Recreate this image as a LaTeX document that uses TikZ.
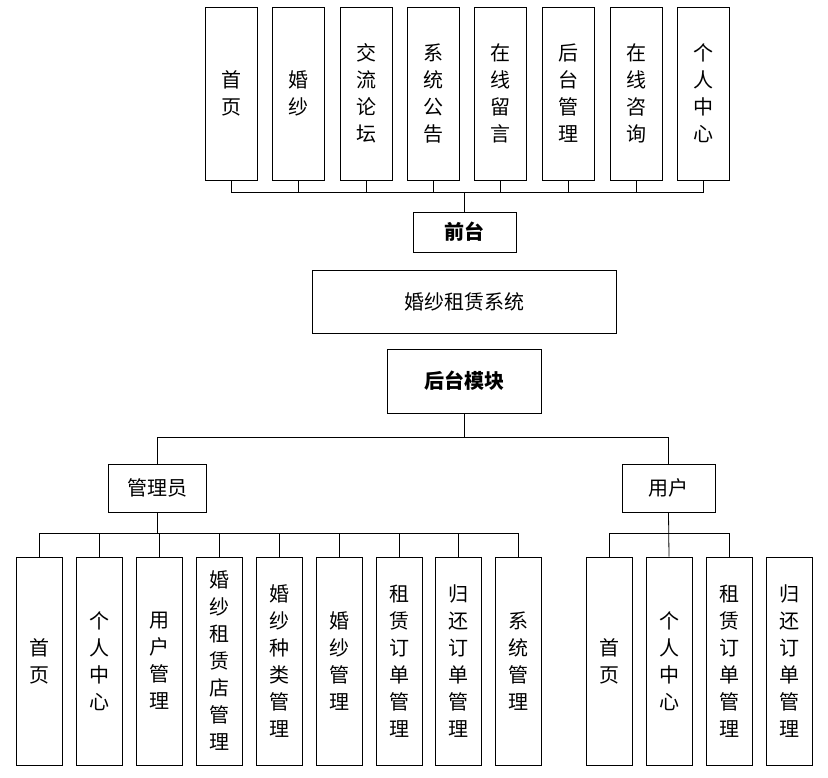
\documentclass[tikz,border=0pt]{standalone}
\usepackage{fontspec}
\setmainfont{Noto Sans CJK SC}
\tikzset{
  vbox/.style={draw, thick, minimum width=46pt, minimum height=208pt, align=center, font=\fontsize{20}{27}\selectfont, inner sep=0pt},
  tbox/.style={draw, thick, minimum width=52pt, minimum height=173pt, align=center, font=\fontsize{20}{27}\selectfont, inner sep=0pt},
  hbox/.style={draw, thick, align=center, font=\fontsize{20}{24}\selectfont, inner sep=0pt},
  link/.style={thick}
}
\begin{document}
\begin{tikzpicture}[x=1pt,y=-1pt]
    \useasboundingbox (0,0) rectangle (828,778);
    % top row
    \foreach \x/\t [count=\i] in {231/首\\页, 298/婚\\纱, 366/交\\流\\论\\坛, 433/系\\统\\公\\告, 500/在\\线\\留\\言, 568/后\\台\\管\\理, 636/在\\线\\咨\\询, 703/个\\人\\中\\心}
        \node[tbox] (t\i) at (\x,93.5) {\t};
    \node[hbox, font=\bfseries\fontsize{20}{24}\selectfont, minimum width=103pt, minimum height=40pt] (front) at (464.5,232) {前台};
    \node[hbox, minimum width=304pt, minimum height=63pt] (sys) at (464,301.5) {婚纱租赁系统};
    \node[hbox, font=\bfseries\fontsize{20}{24}\selectfont, minimum width=154pt, minimum height=64pt] (back) at (464,381) {后台模块};
    \node[hbox, minimum width=98pt, minimum height=48pt] (admin) at (157,488) {管理员};
    \node[hbox, minimum width=93pt, minimum height=48pt] (user) at (668.5,488) {用户};
    % admin row
    \foreach \x/\t [count=\i] in {39/首\\页, 99/个\\人\\中\\心, 159/用\\户\\管\\理, 219/婚\\纱\\租\\赁\\店\\管\\理, 279/婚\\纱\\种\\类\\管\\理, 339/婚\\纱\\管\\理, 399/租\\赁\\订\\单\\管\\理, 458/归\\还\\订\\单\\管\\理, 518/系\\统\\管\\理}
        \node[vbox] (a\i) at (\x,661) {\t};
    % user row
    \foreach \x/\t [count=\i] in {609/首\\页, 669/个\\人\\中\\心, 729/租\\赁\\订\\单\\管\\理, 789/归\\还\\订\\单\\管\\理}
        \node[vbox] (u\i) at (\x,661) {\t};
    % connectors
    \draw[link] (t1.south) |- (t8.south |- 0,192) -- (t8.south);
    \foreach \i in {2,...,7}
        \draw[link] (t\i.south) -- (t\i.south |- 0,192);
    \draw[link] (front.north) -- (front.north |- 0,192);
    \draw[link] (back.south) -- (back.south |- 0,437);
    \draw[link] (admin.north) |- (user.north |- 0,437) -- (user.north);
    \draw[link] (a1.north) |- (a9.north |- 0,533) -- (a9.north);
    \foreach \i in {2,...,8}
        \draw[link] (a\i.north) -- (a\i.north |- 0,533);
    \draw[link] (admin.south) -- (admin.south |- 0,533);
    \draw[link] (u1.north) |- (u3.north |- 0,533) -- (u3.north);
    \draw[link] (u2.north) -- (user.south);
\end{tikzpicture}
\end{document}
